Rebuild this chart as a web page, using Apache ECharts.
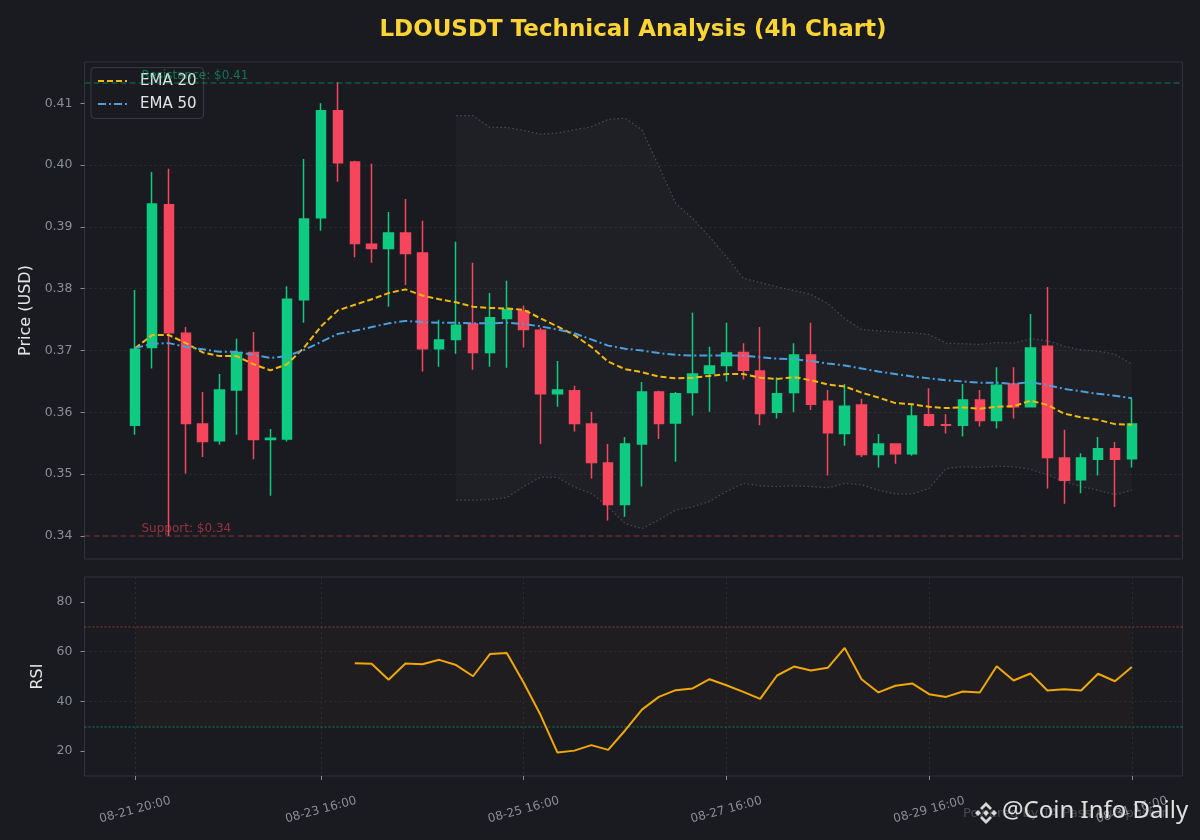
<!DOCTYPE html>
<html>
<head>
<meta charset="utf-8">
<script src="https://cdn.jsdelivr.net/npm/echarts@6/dist/echarts.min.js"></script>
<style>
html,body{margin:0;padding:0;background:#1a1b20;}
#c{width:1200px;height:840px;}
</style>
</head>
<body>
<div id="c"></div>
<script>
// ---------- DATA ----------
const startTimeUTC = Date.UTC(2025, 7, 21, 20, 0, 0); // first candle 08-21 20:00, 4h candles
const candleCount = 60;
const tickLabels = ['08-21 20:00', '08-23 16:00', '08-25 16:00', '08-27 16:00', '08-29 16:00', '08-31 16:00'];

const opens  = [.3579,.3705,.3936,.3728,.3581,.3554,.3636,.3697,.3556,.3557,
                .3782,.3915,.4088,.4005,.3872,.3865,.3890,.3858,.3703,.3718,
                .3743,.3697,.3752,.3764,.3733,.3630,.3635,.3581,.3518,.3451,
                .3549,.3633,.3583,.3632,.3663,.3676,.3697,.3667,.3600,.3632,
                .3693,.3618,.3566,.3612,.3532,.3549,.3533,.3596,.3580,.3579,
                .3620,.3587,.3646,.3609,.3707,.3526,.3491,.3524,.3541,.3525];
const closes = [.3702,.3937,.3729,.3582,.3553,.3636,.3697,.3556,.3558,.3783,
                .3913,.4088,.4004,.3873,.3865,.3890,.3857,.3703,.3717,.3741,
                .3697,.3753,.3766,.3734,.3630,.3636,.3582,.3519,.3451,.3549,
                .3633,.3582,.3630,.3662,.3675,.3696,.3668,.3598,.3630,.3693,
                .3613,.3567,.3610,.3532,.3549,.3533,.3594,.3579,.3579,.3620,
                .3587,.3644,.3609,.3704,.3527,.3490,.3526,.3541,.3524,.3581];
const lows   = [.3564,.3671,.3400,.3501,.3528,.3548,.3564,.3524,.3465,.3553,
                .3745,.3894,.3973,.3851,.3842,.3771,.3806,.3666,.3674,.3695,
                .3669,.3674,.3672,.3705,.3549,.3609,.3569,.3493,.3425,.3431,
                .3480,.3557,.3520,.3595,.3601,.3650,.3653,.3579,.3590,.3600,
                .3604,.3498,.3546,.3528,.3511,.3517,.3530,.3577,.3566,.3561,
                .3577,.3574,.3590,.3608,.3477,.3452,.3469,.3498,.3447,.3511];
const highs  = [.3798,.3989,.3994,.3738,.3633,.3662,.3719,.3730,.3573,.3804,
                .4010,.4100,.4134,.4007,.4002,.3924,.3945,.3910,.3750,.3876,
                .3842,.3793,.3813,.3773,.3737,.3683,.3643,.3601,.3549,.3560,
                .3649,.3635,.3633,.3761,.3706,.3745,.3712,.3738,.3657,.3712,
                .3745,.3636,.3646,.3622,.3565,.3549,.3612,.3639,.3597,.3646,
                .3636,.3673,.3673,.3759,.3803,.3572,.3534,.3560,.3552,.3623];

const ema20 = [.3704,.3725,.3725,.3712,.3697,.3691,.3691,.3678,.3668,.3678,
               .3705,.3739,.3765,.3774,.3783,.3793,.3799,.3789,.3783,.3778,
               .3771,.3769,.3768,.3766,.3752,.3739,.3725,.3706,.3682,.3670,
               .3665,.3658,.3655,.3656,.3659,.3662,.3662,.3656,.3654,.3657,
               .3652,.3645,.3642,.3632,.3624,.3615,.3613,.3609,.3607,.3608,
               .3606,.3609,.3610,.3619,.3612,.3598,.3592,.3588,.3581,.3580];
const ema50 = [.3704,.3711,.3712,.3706,.3702,.3698,.3698,.3693,.3688,.3691,
               .3701,.3714,.3727,.3732,.3738,.3744,.3748,.3746,.3745,.3745,
               .3744,.3744,.3745,.3743,.3739,.3734,.3728,.3718,.3708,.3703,
               .3700,.3696,.3693,.3692,.3692,.3692,.3692,.3689,.3687,.3686,
               .3683,.3679,.3676,.3671,.3666,.3662,.3658,.3655,.3652,.3650,
               .3648,.3648,.3646,.3649,.3644,.3638,.3634,.3630,.3627,.3623];

const bbStart = 19; // Bollinger bands begin at candle 19
const bbUpper = [.4080,.4080,.4061,.4061,.4056,.4050,.4052,.4057,.4062,.4074,
                 .4076,.4057,.3998,.3938,.3914,.3884,.3852,.3817,.3810,.3803,
                 .3797,.3791,.3776,.3752,.3734,.3732,.3730,.3729,.3726,.3712,
                 .3711,.3710,.3713,.3712,.3719,.3716,.3707,.3701,.3699,.3694,.3678];
const bbLower = [.3458,.3458,.3459,.3462,.3480,.3495,.3495,.3479,.3469,.3447,
                 .3420,.3412,.3426,.3442,.3447,.3456,.3472,.3485,.3481,.3480,
                 .3481,.3480,.3478,.3485,.3483,.3474,.3468,.3468,.3477,.3509,
                 .3512,.3511,.3513,.3512,.3508,.3499,.3488,.3480,.3474,.3467,.3474];

const rsiStart = 13; // RSI begins at candle 13
const rsi = [55.3,55.1,48.7,55.2,54.9,56.7,54.6,50.1,59.0,59.4,
             47.5,34.5,19.4,20.2,22.4,20.5,28.3,36.7,41.8,44.5,
             45.2,48.9,46.5,43.8,41.0,50.4,54.0,52.4,53.5,61.5,
             48.9,43.6,46.3,47.2,42.9,41.8,44.0,43.6,54.1,48.4,
             51.2,44.4,44.9,44.4,51.1,48.1,53.8];

const resistanceLevel = 0.4133;
const supportLevel = 0.34;
const priceTicks = [0.34, 0.35, 0.36, 0.37, 0.38, 0.39, 0.40, 0.41];
const rsiTicks = [20, 40, 60, 80];

// ---------- BUILD ----------
const PAD = 3;
function fmt(ts) {
  const d = new Date(ts);
  const p = n => String(n).padStart(2, '0');
  return p(d.getUTCMonth() + 1) + '-' + p(d.getUTCDate()) + ' ' + p(d.getUTCHours()) + ':' + p(d.getUTCMinutes());
}
const times = [];
for (let i = 0; i < candleCount; i++) times.push(fmt(startTimeUTC + i * 4 * 3600 * 1000));
const categories = [];
for (let i = 0; i < PAD; i++) categories.push(' pad' + i);
times.forEach(t => categories.push(t));
for (let i = 0; i < PAD; i++) categories.push(' padR' + i);

const isTick = (idx) => tickLabels.indexOf(categories[idx]) >= 0;

const candleData = times.map((t, i) => [i + PAD, opens[i], closes[i], lows[i], highs[i]]);
const ema20Data = ema20.map((v, i) => [i + PAD, v]);
const ema50Data = ema50.map((v, i) => [i + PAD, v]);
const bbUpperData = bbUpper.map((v, i) => [i + bbStart + PAD, v]);
const bbLowerData = bbLower.map((v, i) => [i + bbStart + PAD, v]);
const bbWidthData = bbUpper.map((v, i) => [i + bbStart + PAD, v - bbLower[i]]);
const rsiData = rsi.map((v, i) => [i + rsiStart + PAD, v]);

const FONT = 'DejaVu Sans';
const TICK_COLOR = '#8b8e95';
const GRID_LINE = '#2c2e34';
const FRAME = '#30333a';

const chart = echarts.init(document.getElementById('c'), null, {renderer: 'canvas'});

const option = {
  backgroundColor: '#1a1b20',
  animation: false,
  textStyle: {fontFamily: FONT},
  title: {
    text: 'LDOUSDT Technical Analysis (4h Chart)',
    left: 633, top: 19, textAlign: 'center', padding: 0,
    textStyle: {color: '#fcd535', fontSize: 23, fontWeight: 'bold', fontFamily: FONT}
  },
  legend: {
    data: ['EMA 20', 'EMA 50'],
    orient: 'vertical',
    left: 91, top: 67.5,
    padding: [6, 7, 7, 6],
    itemGap: 8,
    itemWidth: 29, itemHeight: 14,
    itemStyle: {opacity: 0},
    backgroundColor: 'rgba(26,27,32,0.8)',
    borderColor: '#35383f', borderWidth: 1.2, borderRadius: 4,
    textStyle: {color: '#e4e4e4', fontSize: 15, fontFamily: FONT, padding: [0, 0, 0, 8]}
  },
  grid: [
    {left: 84.5, top: 62, width: 1098, height: 497, show: true, borderColor: FRAME, borderWidth: 1, backgroundColor: 'transparent'},
    {left: 84.5, top: 577, width: 1098, height: 199, show: true, borderColor: FRAME, borderWidth: 1, backgroundColor: 'transparent'}
  ],
  xAxis: [
    {
      type: 'category', gridIndex: 0, data: categories, boundaryGap: false,
      axisLine: {show: false}, axisTick: {show: false}, axisLabel: {show: false},
      splitLine: {show: false}
    },
    {
      type: 'category', gridIndex: 1, data: categories, boundaryGap: false,
      axisLine: {show: false},
      axisTick: {show: true, length: 4, interval: (i) => isTick(i), lineStyle: {color: TICK_COLOR}},
      axisLabel: {
        show: true, interval: (i) => isTick(i), rotate: 15, align: 'center', verticalAlign: 'middle',
        margin: 34, color: TICK_COLOR, fontSize: 12, fontFamily: FONT
      },
      splitLine: {show: true, interval: (i) => isTick(i), lineStyle: {color: GRID_LINE, type: [2, 3], width: 1}}
    }
  ],
  yAxis: [
    {
      type: 'value', gridIndex: 0, min: 0.33628, max: 0.41668, splitNumber: 8, scale: true,
      name: 'Price (USD)', nameLocation: 'middle', nameGap: 44,
      nameTextStyle: {color: '#e4e4e4', fontSize: 16, fontFamily: FONT},
      axisLine: {show: false},
      axisTick: {show: true, length: 4, lineStyle: {color: TICK_COLOR}, customValues: priceTicks},
      axisLabel: {color: TICK_COLOR, fontSize: 12.5, margin: 12, fontFamily: FONT, customValues: priceTicks,
                  formatter: v => v.toFixed(2)},
      splitLine: {show: true, showMinLine: false, showMaxLine: false, lineStyle: {color: GRID_LINE, type: [2, 3], width: 1}}
    },
    {
      type: 'value', gridIndex: 1, min: 10, max: 90, splitNumber: 4,
      name: 'RSI', nameLocation: 'middle', nameGap: 32,
      nameTextStyle: {color: '#e4e4e4', fontSize: 16, fontFamily: FONT},
      axisLine: {show: false},
      axisTick: {show: true, length: 4, lineStyle: {color: TICK_COLOR}, customValues: rsiTicks},
      axisLabel: {color: TICK_COLOR, fontSize: 12.5, margin: 12, fontFamily: FONT, customValues: rsiTicks},
      splitLine: {show: true, showMinLine: false, showMaxLine: false, lineStyle: {color: GRID_LINE, type: [2, 3], width: 1}}
    }
  ],
  series: [
    {
      name: 'BB base', type: 'line', xAxisIndex: 0, yAxisIndex: 0, stack: 'bb',
      data: bbLowerData, symbol: 'none', lineStyle: {opacity: 0}, silent: true, z: 1
    },
    {
      name: 'BB fill', type: 'line', xAxisIndex: 0, yAxisIndex: 0, stack: 'bb',
      data: bbWidthData, symbol: 'none', lineStyle: {opacity: 0},
      areaStyle: {color: 'rgba(255,255,255,0.03)'}, silent: true, z: 1
    },
    {
      name: 'BB Upper', type: 'line', xAxisIndex: 0, yAxisIndex: 0, data: bbUpperData,
      symbol: 'none', lineStyle: {color: '#4a4c53', width: 1.2, type: [1.5, 2.5]}, silent: true, z: 2
    },
    {
      name: 'BB Lower', type: 'line', xAxisIndex: 0, yAxisIndex: 0, data: bbLowerData,
      symbol: 'none', lineStyle: {color: '#4a4c53', width: 1.2, type: [1.5, 2.5]}, silent: true, z: 2
    },
    {
      name: 'Price', type: 'candlestick', xAxisIndex: 0, yAxisIndex: 0,
      data: candleData, encode: {x: 0, y: [1, 2, 3, 4]},
      barWidth: 10, z: 3,
      itemStyle: {color: '#0ecb81', color0: '#f6465d', borderColor: '#0ecb81', borderColor0: '#f6465d', borderWidth: 1.5},
      markLine: {
        silent: true, symbol: 'none', animation: false, precision: 4,
        data: [
          {
            yAxis: resistanceLevel,
            lineStyle: {color: 'rgba(14,203,129,0.35)', type: [6, 3], width: 1.5},
            label: {show: true, position: 'insideStartTop', distance: [57, 1],
                    formatter: 'Resistance: $' + resistanceLevel.toFixed(2),
                    color: 'rgba(14,203,129,0.5)', fontSize: 12, fontFamily: FONT}
          },
          {
            yAxis: supportLevel,
            lineStyle: {color: 'rgba(246,70,93,0.35)', type: [6, 3], width: 1.5},
            label: {show: true, position: 'insideStartTop', distance: [57, 1],
                    formatter: 'Support: $' + supportLevel.toFixed(2),
                    color: 'rgba(246,70,93,0.55)', fontSize: 12, fontFamily: FONT}
          }
        ]
      }
    },
    {
      name: 'EMA 20', type: 'line', xAxisIndex: 0, yAxisIndex: 0, data: ema20Data,
      symbol: 'none', lineStyle: {color: '#f0b90b', width: 2, type: [6, 3]},
      itemStyle: {color: '#f0b90b'}, z: 5
    },
    {
      name: 'EMA 50', type: 'line', xAxisIndex: 0, yAxisIndex: 0, data: ema50Data,
      symbol: 'none', lineStyle: {color: '#4a9fdc', width: 2, type: [8, 3, 2, 3]},
      itemStyle: {color: '#4a9fdc'}, z: 5
    },
    {
      name: 'RSI', type: 'line', xAxisIndex: 1, yAxisIndex: 1, data: rsiData,
      symbol: 'none', lineStyle: {color: '#f0a70a', width: 2}, z: 5,
      markLine: {
        silent: true, symbol: 'none', animation: false, label: {show: false},
        data: [
          {yAxis: 70, lineStyle: {color: 'rgba(246,70,93,0.38)', type: [2, 2], width: 1.5}},
          {yAxis: 30, lineStyle: {color: 'rgba(14,203,129,0.38)', type: [2, 2], width: 1.5}}
        ]
      },
      markArea: {
        silent: true,
        itemStyle: {color: 'rgba(60,45,30,0.15)'},
        data: [[{xAxis: PAD, yAxis: 30}, {xAxis: PAD + candleCount - 1, yAxis: 70}]]
      }
    }
  ],
  graphic: [
    {
      type: 'text', left: 963, top: 807, z: 100, silent: true,
      style: {text: 'Powered by TA Pass Autoposter', fill: 'rgba(255,255,255,0.2)', font: '13px "DejaVu Sans"'}
    },
    {
      type: 'group', left: 975, top: 802, z: 101, silent: true,
      children: [
        {type: 'polygon', shape: {points: [[11,8],[14,11],[11,14],[8,11]]}, style: {fill: '#d6d6d6'}},
        {type: 'polygon', shape: {points: [[11,0],[17,6],[15,8],[11,4],[7,8],[5,6]]}, style: {fill: '#d6d6d6'}},
        {type: 'polygon', shape: {points: [[11,22],[17,16],[15,14],[11,18],[7,14],[5,16]]}, style: {fill: '#d6d6d6'}},
        {type: 'polygon', shape: {points: [[0,11],[3,8],[6,11],[3,14]]}, style: {fill: '#d6d6d6'}},
        {type: 'polygon', shape: {points: [[16,11],[19,8],[22,11],[19,14]]}, style: {fill: '#d6d6d6'}}
      ]
    },
    {
      type: 'text', left: 1002, top: 799, z: 101, silent: true,
      style: {text: '@Coin Info Daily', fill: 'rgba(240,240,240,0.92)', font: '24px "Noto Sans"'}
    }
  ]
};

chart.setOption(option);
</script>
</body>
</html>
